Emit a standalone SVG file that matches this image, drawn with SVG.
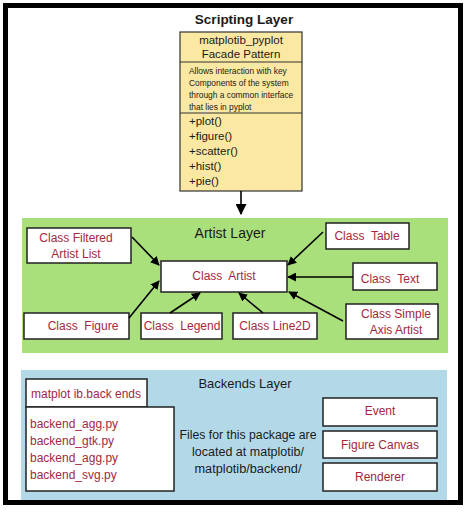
<svg xmlns="http://www.w3.org/2000/svg" width="474" height="517" viewBox="0 0 474 517">
<defs>
<marker id="ah" viewBox="0 0 10 10" refX="9" refY="5" markerWidth="9" markerHeight="9" markerUnits="userSpaceOnUse" orient="auto">
<path d="M0,0 L10,5 L0,10 z" fill="#000"/>
</marker>
<marker id="ah2" viewBox="0 0 10 10" refX="9" refY="5" markerWidth="11" markerHeight="11" markerUnits="userSpaceOnUse" orient="auto">
<path d="M0,0 L10,5 L0,10 z" fill="#000"/>
</marker>
</defs>
<style>
text{font-family:"Liberation Sans","Noto Sans",Arial,sans-serif}
.box{fill:#fff;stroke:#222;stroke-width:1.5}
.red{fill:#a3283d;font-size:12px}
.mid{text-anchor:middle}
.dark{fill:#1a1a1a}
.con{stroke:#000;stroke-width:1.6;fill:none;marker-end:url(#ah)}
</style>
<rect x="0" y="0" width="474" height="517" fill="#fff"/>
<rect x="5.5" y="5.5" width="455" height="497" fill="#fff" stroke="#000" stroke-width="5"/>

<g id="scripting-layer">
<text x="244" y="24" class="mid dark" font-size="13.5" font-weight="bold">Scripting Layer</text>
</g>
<g id="pyplot">
<rect x="180" y="32" width="122" height="159" fill="#fbe8a2" stroke="#333" stroke-width="1.2"/>
<line x1="180" y1="62" x2="302" y2="62" stroke="#333" stroke-width="1.2"/>
<line x1="180" y1="113" x2="302" y2="113" stroke="#333" stroke-width="1.2"/>
<text x="241" y="44" class="mid dark" font-size="11.5">matplotib_pyplot</text>
<text x="241" y="58" class="mid dark" font-size="11.5">Facade Pattern</text>
<text x="189" y="74" class="dark" font-size="8.4">Allows interaction with key</text>
<text x="189" y="86" class="dark" font-size="8.4">Components of the system</text>
<text x="189" y="98" class="dark" font-size="8.4">through a common interface</text>
<text x="189" y="110" class="dark" font-size="8.4">that lies in pyplot</text>
<text x="189" y="125" class="dark" font-size="11.5">+plot()</text>
<text x="189" y="140" class="dark" font-size="11.5">+figure()</text>
<text x="189" y="155" class="dark" font-size="11.5">+scatter()</text>
<text x="189" y="170" class="dark" font-size="11.5">+hist()</text>
<text x="189" y="185" class="dark" font-size="11.5">+pie()</text>
</g>

<g id="artist-layer">
<rect x="22" y="218" width="426" height="135" fill="#a9e07c"/>
<text x="230" y="238" class="mid dark" font-size="14">Artist Layer</text>
</g>
<g id="class-artist">
<rect class="box" x="161" y="261" width="126" height="31"/>
<text x="224" y="280" class="red mid">Class&#160; Artist</text>
</g>
<g id="class-filtered">
<rect class="box" x="27" y="228" width="104" height="35"/>
<text x="76" y="242" class="red mid">Class Filtered</text>
<text x="76" y="258" class="red mid">Artist List</text>
</g>
<g id="class-table">
<rect class="box" x="326" y="223" width="83" height="26"/>
<text x="367" y="240" class="red mid">Class&#160; Table</text>
</g>
<g id="class-text">
<rect class="box" x="353" y="263" width="84" height="27"/>
<text x="390" y="283" class="red mid">Class&#160; Text</text>
</g>
<g id="class-simple">
<rect class="box" x="346" y="304" width="92" height="35"/>
<text x="396" y="318" class="red mid">Class Simple</text>
<text x="396" y="334" class="red mid">Axis Artist</text>
</g>
<g id="class-figure">
<rect class="box" x="24" y="313" width="105" height="26"/>
<text x="83" y="330" class="red mid">Class&#160; Figure</text>
</g>
<g id="class-legend">
<rect class="box" x="141" y="313" width="81" height="26"/>
<text x="182" y="330" class="red mid">Class&#160; Legend</text>
</g>
<g id="class-line2d">
<rect class="box" x="233" y="313" width="84" height="26"/>
<text x="275" y="330" class="red mid">Class Line2D</text>
</g>

<g id="backends-layer">
<rect x="21" y="370" width="426" height="130" fill="#b3d9e9"/>
<text x="245" y="388" class="mid dark" font-size="13">Backends Layer</text>
<text x="248" y="439" class="mid dark" font-size="12.5" textLength="137" lengthAdjust="spacingAndGlyphs">Files for this package are</text>
<text x="248" y="456" class="mid dark" font-size="12.5" textLength="112" lengthAdjust="spacingAndGlyphs">located at matplotib/</text>
<text x="248" y="473" class="mid dark" font-size="12.5" textLength="107" lengthAdjust="spacingAndGlyphs">matplotib/backend/</text>
</g>
<g id="backends-package">
<rect class="box" x="26" y="379" width="121" height="28"/>
<text x="86" y="398" class="red mid" font-size="10">matplot ib.back ends</text>
<rect class="box" x="26" y="407" width="148" height="84"/>
<text x="30" y="428" class="red" font-size="13">backend_agg.py</text>
<text x="30" y="445" class="red" font-size="13">backend_gtk.py</text>
<text x="30" y="462" class="red" font-size="13">backend_agg.py</text>
<text x="30" y="479" class="red" font-size="13">backend_svg.py</text>
</g>
<g id="event">
<rect class="box" x="323" y="398" width="114" height="28"/>
<text x="380" y="415" class="red mid">Event</text>
</g>
<g id="figure-canvas">
<rect class="box" x="323" y="431" width="114" height="27"/>
<text x="380" y="449" class="red mid">Figure Canvas</text>
</g>
<g id="renderer">
<rect class="box" x="323" y="463" width="114" height="28"/>
<text x="380" y="481" class="red mid">Renderer</text>
</g>

<g id="connectors">
<line x1="241" y1="191" x2="241" y2="214" stroke="#000" stroke-width="1.6" marker-end="url(#ah2)"/>
<line class="con" x1="132" y1="237" x2="159" y2="265"/>
<line class="con" x1="129" y1="318" x2="159" y2="281"/>
<line class="con" x1="170" y1="313" x2="200" y2="293"/>
<line class="con" x1="263" y1="313" x2="239" y2="293"/>
<line class="con" x1="323" y1="232" x2="288" y2="265"/>
<line class="con" x1="353" y1="277" x2="288" y2="277"/>
<line class="con" x1="343" y1="321" x2="289" y2="292"/>
</g>
</svg>
